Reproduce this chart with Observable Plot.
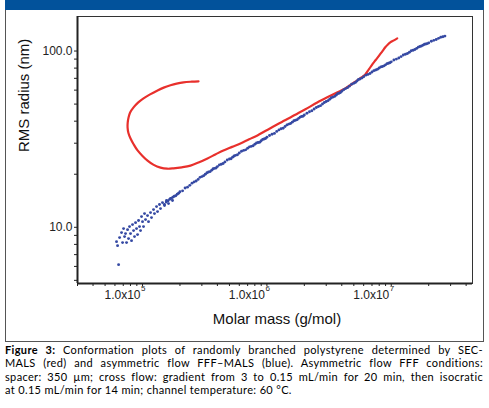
<!DOCTYPE html>
<html><head><meta charset="utf-8">
<script src="https://cdn.jsdelivr.net/npm/d3@7"></script>
<script src="https://cdn.jsdelivr.net/npm/@observablehq/plot@0.6"></script>
<style>
body{margin:0;background:#fff;}
#wrap{position:relative;width:489px;height:408px;overflow:hidden;}
#hdr{position:absolute;left:5px;top:0;width:479px;height:10px;background:#02529b;}
#box{position:absolute;left:5px;top:10px;width:477px;height:331px;border:1px solid #555;border-top:none;}
#box svg{display:block;}
#cap{position:absolute;left:5px;top:343px;width:478px;font-family:Lato,"Open Sans",sans-serif;font-size:11px;line-height:13.3px;letter-spacing:0.35px;color:#000;}
#cap div{height:13.3px;text-align:justify;text-align-last:justify;white-space:nowrap;}
#cap div.last{text-align-last:left;}
</style></head>
<body>
<div id="wrap">
<div id="hdr"></div>
<div id="box"></div>
<div id="cap">
<div><b>Figure 3:</b> Conformation plots of randomly branched polystyrene determined by SEC-</div>
<div>MALS (red) and asymmetric flow FFF–MALS (blue). Asymmetric flow FFF conditions:</div>
<div>spacer: 350 µm; cross flow: gradient from 3 to 0.15 mL/min for 20 min, then isocratic</div>
<div class="last">at 0.15 mL/min for 14 min; channel temperature: 60 °C.</div>
</div>
</div>
<script>
// Axis ranges and ticks
const xDomain = [3e4, 4.5e7];
const yDomain = [4.8, 157];
const xTickValues = [3e4,4e4,5e4,6e4,7e4,8e4,9e4,1e5,2e5,3e5,4e5,5e5,6e5,7e5,8e5,9e5,1e6,2e6,3e6,4e6,5e6,6e6,7e6,8e6,9e6,1e7,2e7,3e7,4e7];
const yTickValues = [5,6,7,8,9,10,20,30,40,50,60,70,80,90,100];
const xMajor = [1e5, 1e6, 1e7];
const xLabelBase = ["1.0x10", "1.0x10", "1.0x10"];
const xLabelExp = ["5", "6", "7"];
const yMajor = [10, 100];
const yLabels = ["10.0", "100.0"];
const xTitle = "Molar mass (g/mol)";
const yTitle = "RMS radius (nm)";

// SEC-MALS (red): [molar mass g/mol, rms radius nm] in elution order
const redSeries = [
[2.82e5,67.3],[2.49e5,67.0],[2.135e5,66.4],[1.88e5,65.3],[1.678e5,63.9],[1.48e5,62.0],[1.32e5,59.8],
[1.15e5,56.8],[1.019e5,53.9],[9.2e4,51.0],[8.47e4,47.9],[7.95e4,44.8],[7.72e4,42.0],[7.6e4,39.3],
[7.58e4,36.9],[7.7e4,34.3],[8.01e4,31.9],[8.5e4,29.5],[9.12e4,27.3],[9.95e4,25.5],[1.097e5,23.9],
[1.23e5,22.6],[1.395e5,21.8],[1.58e5,21.5],[1.774e5,21.6],[2.07e5,21.9],[2.43e5,22.4],[2.85e5,23.4],
[3.33e5,24.6],[3.85e5,25.9],[4.47e5,27.3],[5.25e5,28.6],[6.13e5,29.9],[7.2e5,31.6],[8.39e5,33.2],
[9.7e5,35.2],[1.128e6,37.3],[1.32e6,39.6],[1.545e6,42.0],[1.78e6,44.4],[2.04e6,46.7],[2.54e6,51.1],
[3.24e6,55.7],[3.7e6,58.4],[4.27e6,61.4],[4.8e6,64.8],[5.33e6,68.2],[5.8e6,71.0],[6.18e6,73.7],
[6.6e6,78.6],[7.04e6,84.0],[7.5e6,89.0],[8.01e6,94.5],[8.5e6,100],[8.95e6,105],[9.4e6,109],
[9.82e6,112],[1.05e7,115],[1.117e7,118]
];

// Asymmetric flow FFF-MALS (blue): [molar mass g/mol, rms radius nm]
const blueSeries = [
[6.42e4,6.14],[6.18e4,8.29],[6.30e4,7.87],[6.54e4,8.74],[6.78e4,9.33],[6.91e4,8.19],[7.04e4,9.83],
[7.17e4,8.86],[7.30e4,9.21],[7.44e4,8.19],[7.58e4,9.70],[7.72e4,8.63],[7.86e4,10.09],[8.01e4,9.21],
[8.16e4,8.40],[8.31e4,10.36],[8.47e4,9.58],[8.62e4,8.86],[8.79e4,10.63],[8.95e4,9.83],[9.12e4,9.09],
[9.29e4,10.92],[9.46e4,10.09],[9.64e4,9.58],[9.82e4,11.50],[1.00e5,10.77],[1.019e5,10.09],[1.038e5,11.96],
[1.057e5,11.06],[1.097e5,11.65],[1.117e5,10.77],[1.160e5,12.12],[1.181e5,11.35],[1.226e5,12.60],
[1.248e5,11.96],[1.296e5,13.11],[1.320e5,12.28],[1.369e5,13.46],[1.395e5,12.77],[1.447e5,13.81],
[1.502e5,13.28],[1.559e5,14.18],[1.618e5,13.63],[1.679e5,14.56],[1.742e5,14.18],
[1.50e5,13.5],[1.55e5,13.9],[1.60e5,14.1],[1.65e5,14.4],[1.70e5,14.6],[1.75e5,14.8],[1.80e5,15.0],
[1.85e5,15.1],[1.90e5,15.4],[1.95e5,15.6],[2.00e5,15.9],[2.10e5,16.1],[2.20e5,16.7],[2.30e5,16.9],
[2.40e5,17.3],[2.50e5,17.8],[2.60e5,18.1],[2.70e5,18.3],[2.80e5,18.7],[2.90e5,19.2],[3.00e5,19.4],
[3.10e5,19.6],[3.20e5,20.0],[3.30e5,20.4],[3.40e5,20.6],[3.50e5,20.7],[3.60e5,21.1],[3.70e5,21.5],
[3.80e5,21.6],[3.90e5,21.7],[4.00e5,22.1],[4.15e5,22.6],[4.30e5,22.8],[4.45e5,23.0],[4.60e5,23.5],
[4.80e5,24.1],[5.00e5,24.4],[5.15e5,24.5],[5.30e5,25.0],[5.45e5,25.4],[5.60e5,25.6],[5.80e5,25.8],
[6.00e5,26.4],[6.25e5,27.0],[6.50e5,27.3],[6.75e5,27.5],[7.00e5,28.1],[7.25e5,28.6],[7.50e5,28.8],
[7.75e5,29.0],[8.00e5,29.6],[8.25e5,30.1],[8.50e5,30.3],[8.75e5,30.4],[9.00e5,31.0],[9.25e5,31.5],
[9.50e5,31.7],[9.75e5,31.9],[1.00e6,32.4],[1.05e6,33.2],[1.10e6,33.7],[1.15e6,34.1],[1.20e6,35.0],
[1.25e6,35.7],[1.30e6,36.2],[1.35e6,36.5],[1.40e6,37.3],[1.45e6,38.1],[1.50e6,38.5],[1.55e6,38.8],
[1.60e6,39.5],[1.65e6,40.2],[1.70e6,40.5],[1.75e6,40.8],[1.80e6,41.5],[1.85e6,42.2],[1.90e6,42.5],
[1.95e6,42.7],[2.00e6,43.4],[2.10e6,44.4],[2.20e6,45.2],[2.30e6,45.8],[2.40e6,46.9],[2.50e6,47.8],
[2.60e6,48.5],[2.70e6,49.0],[2.80e6,50.1],[2.90e6,51.1],[3.00e6,51.7],[3.10e6,52.3],[3.20e6,53.3],
[3.30e6,54.3],[3.40e6,54.8],[3.50e6,55.3],[3.60e6,56.2],[3.70e6,57.2],[3.80e6,57.6],[3.90e6,58.1],
[4.00e6,59.1],[4.15e6,60.4],[4.30e6,61.2],[4.45e6,62.0],[4.60e6,63.2],[4.80e6,64.8],[5.00e6,65.7],
[5.15e6,66.4],[5.30e6,67.6],[5.45e6,68.9],[5.60e6,69.4],[5.80e6,70.2],[6.00e6,71.4],[6.25e6,73.0],
[6.50e6,73.7],[6.75e6,74.6],[7.00e6,76.0],[7.25e6,77.4],[7.50e6,78.1],[7.75e6,78.9],[8.00e6,80.1],
[8.25e6,81.3],[8.50e6,81.7],[8.75e6,82.4],[9.00e6,83.5],[9.25e6,84.8],[9.50e6,85.2],[9.75e6,85.8],
[1.00e7,86.8],[1.05e7,88.9],[1.10e7,90.0],[1.15e7,91.3],[1.20e7,93.0],[1.25e7,94.9],[1.30e7,95.8],
[1.35e7,96.9],[1.40e7,98.5],[1.45e7,100.3],[1.50e7,101],[1.55e7,102],[1.60e7,103.5],[1.65e7,105.2],
[1.70e7,106],[1.75e7,106.8],[1.80e7,108],[1.85e7,109.3],[1.90e7,109.6],[1.95e7,110.2],[2.00e7,111.2],
[2.10e7,113.6],[2.20e7,115],[2.30e7,116.3],[2.40e7,118],[2.50e7,119.8],[2.60e7,120.5],[2.70e7,121.5]
];

const red = redSeries.map(([M, R]) => ({M, R}));
const blue = blueSeries.map(([M, R]) => ({M, R}));
const xLab = xMajor.map((v, i) => ({v, base: xLabelBase[i], exp: xLabelExp[i]}));

const chart = Plot.plot({
  width: 477, height: 331,
  marginLeft: 71, marginRight: 11, marginTop: 6, marginBottom: 58,
  style: {fontFamily: '"Liberation Sans", Arial, sans-serif', fontSize: "12px", color: "#222", background: "transparent", overflow: "visible"},
  x: {type: "log", domain: xDomain, label: null},
  y: {type: "log", domain: yDomain, label: null},
  marks: [
    Plot.frame({stroke: "#333", strokeWidth: 1}),
    Plot.ruleX([xDomain[0]], {stroke: "#222", strokeWidth: 2}),
    Plot.ruleY([yDomain[0]], {stroke: "#222", strokeWidth: 2}),
    Plot.axisX({ticks: xTickValues, tickSize: 3, tickFormat: () => "", label: null, stroke: "#222"}),
    Plot.axisY({ticks: yTickValues, tickSize: 3, tickPadding: 2, label: null, stroke: "#222",
      tickFormat: d => { const i = yMajor.indexOf(d); return i >= 0 ? yLabels[i] : ""; }}),
    Plot.text(xLab, {x: "v", frameAnchor: "bottom", text: "base", textAnchor: "end", lineAnchor: "top", dx: -2, dy: 7, fontSize: 12, fill: "#222"}),
    Plot.text(xLab, {x: "v", frameAnchor: "bottom", text: "exp", textAnchor: "end", lineAnchor: "top", dx: 3, dy: 2, fontSize: 8, fill: "#222"}),
    Plot.text([xTitle], {frameAnchor: "bottom", lineAnchor: "top", dx: 2, dy: 30, fontSize: 15, fill: "#111"}),
    Plot.text([yTitle], {frameAnchor: "left", rotate: -90, dx: -53, dy: 2, fontSize: 15, fill: "#111"}),
    Plot.line(red, {x: "M", y: "R", stroke: "#e8302c", strokeWidth: 2.2, curve: "catmull-rom"}),
    Plot.dot(blue, {x: "M", y: "R", r: 1.45, fill: "#3549a3", stroke: null})
  ]
});
document.getElementById("box").appendChild(chart);
</script>
</body></html>
